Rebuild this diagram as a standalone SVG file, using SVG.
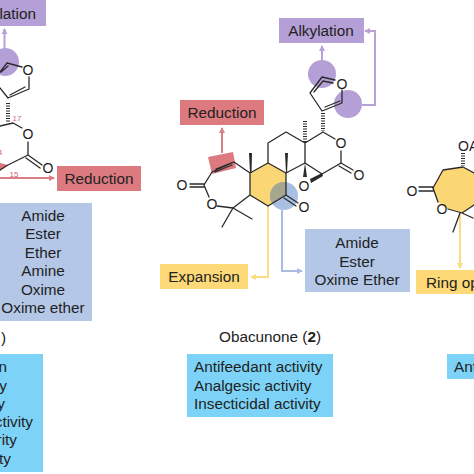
<svg xmlns="http://www.w3.org/2000/svg" width="474" height="474" viewBox="0 0 474 474">
<style>
text{font-family:"Liberation Sans",Arial,sans-serif;font-size:15.3px;fill:#222}
.c{text-anchor:middle}
.e{text-anchor:end}
.b{fill:none;stroke:#2a2a2a;stroke-width:1.3;stroke-linejoin:round;stroke-linecap:round}
.w{fill:#2a2a2a;stroke:none}
.h{fill:none;stroke:#2a2a2a;stroke-width:4;stroke-dasharray:1 1.5}
.o{font-size:14px;text-anchor:middle}
.n{font-size:8px;fill:#d9646c;text-anchor:middle}
.pu{fill:none;stroke:#b7a2d8;stroke-width:2}
.re{fill:none;stroke:#d97f86;stroke-width:2}
.ye{fill:none;stroke:#fbdc80;stroke-width:2}
.bl{fill:none;stroke:#a9bde0;stroke-width:2}
</style>
<defs>
<marker id="ap" markerWidth="7" markerHeight="7" refX="5" refY="3" orient="auto" markerUnits="userSpaceOnUse"><path d="M0 0L6 3L0 6Z" fill="#b7a2d8"/></marker>
<marker id="ar" markerWidth="7" markerHeight="7" refX="5" refY="3" orient="auto" markerUnits="userSpaceOnUse"><path d="M0 0L6 3L0 6Z" fill="#d97f86"/></marker>
<marker id="ay" markerWidth="7" markerHeight="7" refX="5" refY="3" orient="auto" markerUnits="userSpaceOnUse"><path d="M0 0L6 3L0 6Z" fill="#fbdc80"/></marker>
<marker id="ab" markerWidth="7" markerHeight="7" refX="5" refY="3" orient="auto" markerUnits="userSpaceOnUse"><path d="M0 0L6 3L0 6Z" fill="#a9bde0"/></marker>
<clipPath id="hex"><path d="M268 163L286 173V195L268 206L250 195V173Z"/></clipPath>
</defs>

<g id="highlights">
<circle cx="5" cy="62" r="14" fill="#b49fd6"/>
<path d="M0 163L8 165L0 171Z" fill="#d9737c"/>
<circle cx="322" cy="74" r="14" fill="#b49fd6"/>
<circle cx="348" cy="104" r="14" fill="#b49fd6"/>
<path d="M208 157L233 152L236 168L212 174Z" fill="#dc7a80"/>
<path d="M268 163L286 173V195L268 206L250 195V173Z" fill="#fbd675"/>
<circle cx="284" cy="196" r="14" fill="#a9bfe2"/>
<circle cx="284" cy="196" r="14" fill="#a6a78f" clip-path="url(#hex)"/>
<path d="M433 188L443 170L463 167L474 173V205L462 213L446 208L438 202Z" fill="#fbd675"/>
</g>

<g id="connectors">
<path class="pu" d="M4.500 48V29" marker-end="url(#ap)"/>
<path class="re" d="M0 178H54" marker-end="url(#ar)"/>
<path class="pu" d="M322 60V46" marker-end="url(#ap)"/>
<path class="pu" d="M362 105H375V31H365" marker-end="url(#ap)"/>
<path class="re" d="M222 153V128" marker-end="url(#ar)"/>
<path class="ye" d="M268 206V277H251" marker-end="url(#ay)"/>
<path class="bl" d="M282 210V271H302" marker-end="url(#ab)"/>
<path class="ye" d="M460 213V268" marker-end="url(#ay)"/>
</g>

<g id="left-molecule">
<path class="b" d="M0 72L7 63L22 67M1 72L8 66"/>
<path class="b" d="M29 77V89L8 98L0 88M10 95L25 87"/>
<path class="h" d="M8 103V122"/>
<path class="b" d="M0 126L13 123L22 128"/>
<path class="b" d="M28 142V155L8 165L0 170M28 155L42 165M26 158L40 168"/>
<text x="28" y="75" class="o">O</text>
<text x="28" y="139" class="o">O</text>
<text x="48" y="173" class="o">O</text>
<text x="17" y="121" class="n">17</text>
<text x="14" y="177" class="n">15</text>
<text x="0" y="155" class="n">4</text>
</g>

<g id="center-molecule">
<path class="b" d="M310 93L322 77L335 80M314 92L323 81L333 83M342 90V103L322 111L310 93M325 107L340 101"/>
<path class="h" d="M323 113V131"/>
<path class="h" d="M305 121V142"/>
<path class="b" d="M323 132L305 143L286 132L268 143V163M305 143V163L322 174L341 163V151M323 132L335 139"/>
<path class="b" d="M341 163L353 170M339 166L351 173M305 163L286 173"/>
<path class="b" d="M268 163L286 173V195L268 206L250 195V173ZM250 173L234 162L212 172L204 185L209 197M217 206L233 208L250 195M215 172L232 165M216 169L231 163M204 184H190M204 187H190"/>
<path class="b" d="M286 195L298 203M284 198L296 206M233 208L222 227M233 208L252 219"/>
<path class="w" d="M249 153H252L251.500 173H250ZM285 153H288L287 173H286Z"/>
<path class="w" d="M305 163L307 177H303ZM322 173L323 176L311 183L310 179Z"/>
<text x="342" y="89" class="o">O</text>
<text x="341" y="148" class="o">O</text>
<text x="359" y="180" class="o">O</text>
<text x="304" y="191" class="o">O</text>
<text x="304" y="212" class="o">O</text>
<text x="182" y="190" class="o">O</text>
<text x="212" y="209" class="o">O</text>
</g>

<g id="right-molecule">
<path class="b" d="M433 188L443 170L463 167L474 173"/>
<path class="b" d="M433 188L438 202M448 209L462 213L474 205M462 213L473 218M460 213L453 232M433 187H419M433 191H419"/>
<path class="h" d="M463 153V166"/>
<text x="412" y="196" class="o">O</text>
<text x="458" y="151" style="font-size:14px">OA</text>
<text x="442" y="214" class="o">O</text>
</g>

<g id="alkylation-left"><rect x="0" y="0" width="46" height="26" fill="#b49fd6"/><text x="36" y="19" class="e">lation</text></g>
<g id="reduction-left"><rect x="57" y="166" width="84" height="25" fill="#dc7a80"/><text x="99" y="184" class="c">Reduction</text></g>
<g id="substituents-left"><rect x="0" y="203" width="92" height="118" fill="#b4c7e7"/>
<text x="43" y="221" class="c">Amide</text><text x="43" y="239" class="c">Ester</text><text x="43" y="258" class="c">Ether</text><text x="43" y="276" class="c">Amine</text><text x="43" y="295" class="c">Oxime</text><text x="43" y="313" class="c">Oxime ether</text></g>
<g id="label-left"><text x="1" y="343">)</text></g>
<g id="activity-left"><rect x="0" y="354" width="43" height="118" fill="#7dd3f7"/>
<text x="7" y="372" class="e">n</text><text x="7" y="391" class="e">y</text><text x="5" y="409" class="e">y</text><text x="33" y="427" class="e">ctivity</text><text x="17" y="445" class="e">rity</text><text x="11" y="464" class="e">ty</text></g>

<g id="alkylation"><rect x="279" y="18" width="85" height="25" fill="#b49fd6"/><text x="321" y="36" class="c">Alkylation</text></g>
<g id="reduction"><rect x="180" y="100" width="84" height="25" fill="#dc7a80"/><text x="222" y="118" class="c">Reduction</text></g>
<g id="expansion"><rect x="160" y="264" width="88" height="25" fill="#fdd977"/><text x="204" y="282" class="c">Expansion</text></g>
<g id="substituents"><rect x="305" y="229" width="105" height="63" fill="#b4c7e7"/>
<text x="357" y="248" class="c">Amide</text><text x="357" y="267" class="c">Ester</text><text x="357" y="285" class="c">Oxime Ether</text></g>
<g id="label-center"><text x="219" y="342">Obacunone (<tspan font-weight="700">2</tspan>)</text></g>
<g id="activity"><rect x="187" y="354" width="146" height="63" fill="#7dd3f7"/>
<text x="194" y="372">Antifeedant activity</text><text x="194" y="391">Analgesic activity</text><text x="194" y="409">Insecticidal activity</text></g>
<g id="ring-opening"><rect x="416" y="270" width="58" height="24" fill="#fdd977"/><text x="426" y="288">Ring op</text></g>
<g id="activity-right"><rect x="447" y="354" width="27" height="25" fill="#7dd3f7"/><text x="454" y="372">Ant</text></g>
</svg>
